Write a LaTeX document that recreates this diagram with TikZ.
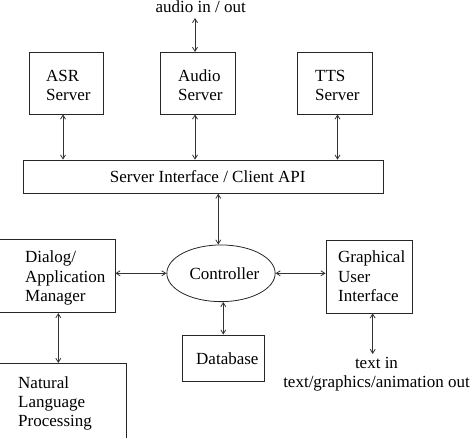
\documentclass[tikz,border=0pt]{standalone}
\usepackage{fontspec}
\setmainfont{Liberation Serif}
\usetikzlibrary{shapes.geometric,arrows.meta}
\begin{document}
\begin{tikzpicture}[x=1pt,y=-1pt,
  every node/.style={font=\fontsize{17}{19.4}\selectfont},
  box/.style={draw=black!85, line width=0.8pt, inner sep=0pt, anchor=center},
  txt/.style={inner sep=0pt, anchor=base west, align=left},
  biarrow/.style={draw=black!80, line width=0.8pt, {Straight Barb[length=4pt,width=5pt]}-{Straight Barb[length=4pt,width=5pt]}}]
\useasboundingbox (0,0) rectangle (474,438);
\clip (0,0) rectangle (474,438);
% boxes
\node[box, minimum width=74pt, minimum height=61.7pt] (asr) at (66.3,83.2) {};
\node[box, minimum width=74.5pt, minimum height=61.7pt] (audio) at (197.75,83.2) {};
\node[box, minimum width=74.5pt, minimum height=61.7pt] (tts) at (334.75,83.2) {};
\node[box, minimum width=359.7pt, minimum height=33.3pt] (sif) at (203.2,176.7) {};
\node[box, minimum width=135pt, minimum height=73.4pt] (dlg) at (47.5,276) {};
\node[box, minimum width=86pt, minimum height=73pt] (gui) at (369,276.5) {};
\node[box, minimum width=81.3pt, minimum height=46.7pt] (db) at (223.3,358.3) {};
\node[box, minimum width=146.7pt, minimum height=96.7pt] (nlp) at (53.3,411.7) {};
\node[box, ellipse, minimum width=108.3pt, minimum height=56.7pt] (ctrl) at (221,273.3) {};
% texts (base anchor = baseline of the last line)
\node[txt] (asrT) at (46,100.6) {ASR\\Server};
\node[txt] (audioT) at (178,100.6) {Audio\\Server};
\node[txt] (ttsT) at (315,100.6) {TTS\\Server};
\node[inner sep=0pt, anchor=base] (sifT) at (207.7,182.7) {Server Interface / Client API};
\node[txt] (ctrlT) at (189.3,279.3) {Controller};
\node[txt] (dbT) at (196,365) {Database};
\node[txt] (dlgT) at (25,301.8) {Dialog/\\Application\\Manager};
\node[txt] (guiT) at (338,301.8) {Graphical\\User\\Interface};
\node[txt] (nlpT) at (18,426.8) {Natural\\Language\\Processing};
\node[inner sep=0pt, anchor=base] (audioio) at (200.7,12.7) {audio in / out};
\node[inner sep=0pt, anchor=base, align=center] (textio) at (376.5,388) {text in\\text/graphics/animation out};
% connector x positions
\coordinate (xa) at (63,0);
\coordinate (xb) at (195,0);
\coordinate (xc) at (337.5,0);
\coordinate (xd) at (218.3,0);
\coordinate (xe) at (223.3,0);
\coordinate (xf) at (58.3,0);
\coordinate (xg) at (372.7,0);
\coordinate (audiotop) at (195,18);
\coordinate (guiend) at (372.7,354);
% connectors
\draw[biarrow] (audiotop) -- (audio.north -| xb);
\draw[biarrow] (asr.south -| xa) -- (sif.north -| xa);
\draw[biarrow] (audio.south -| xb) -- (sif.north -| xb);
\draw[biarrow] (tts.south -| xc) -- (sif.north -| xc);
\draw[biarrow] (sif.south -| xd) -- (ctrl.north -| xd);
\draw[biarrow] (dlg.east |- ctrl.west) -- (ctrl.west);
\draw[biarrow] (ctrl.east) -- (gui.west |- ctrl.east);
\draw[biarrow] (ctrl.south -| xe) -- (db.north -| xe);
\draw[biarrow] (dlg.south -| xf) -- (nlp.north -| xf);
\draw[biarrow] (gui.south -| xg) -- (guiend);
\end{tikzpicture}
\end{document}
